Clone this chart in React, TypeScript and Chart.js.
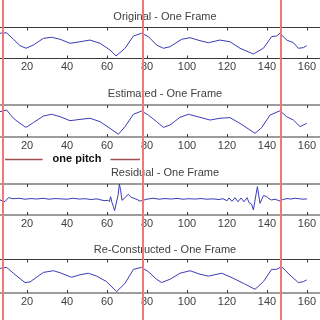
import React, { useEffect, useRef } from "react";
import { Chart, registerables } from "chart.js";

Chart.register(...registerables);

// ---- data ----
const tickValues = [20, 40, 60, 80, 100, 120, 140, 160];
const pitchMarks = [8, 78, 147];
const pitchSpan = [9, 76.5];
const pitchLabelAt = 45;
const titles = [
  "Original - One Frame",
  "Estimated - One Frame",
  "Residual - One Frame",
  "Re-Constructed - One Frame",
];

const origX = [6.5, 9.8, 13.2, 16.5, 19.5, 23.2, 28.2, 32.3, 36.5, 41.5, 46.5, 51.5, 56.5, 61.5, 64.5, 69, 73.2, 77.3, 80.7, 84.8, 88.2, 91.5, 97.3, 101.5, 106.5, 110.7, 116.5, 121.5, 126.5, 133.2, 138.2, 142.3, 144.8, 146.5, 149.8, 153.2, 155.7, 158.2, 159.8];
const origY = [0.63, 0.66, 0.24, -0.17, -0.34, -0.13, 0.30, 0.37, 0.24, -0.02, 0.08, 0.19, -0.02, -0.45, -0.84, -0.34, 0.45, 0.63, 0.41, -0.13, -0.34, -0.24, 0.24, 0.34, 0.15, 0.02, 0.19, 0.08, -0.34, -0.71, -0.34, 0.41, 0.45, 0.63, 0.19, 0.02, -0.34, -0.30, -0.17];

const estX = [6.5, 9.8, 13.2, 16.5, 19.5, 23.2, 28.2, 32.3, 36.5, 41.5, 46.5, 51.5, 56.5, 61.5, 65.7, 69, 73.2, 77.3, 80.7, 84.8, 88.2, 91.5, 96.5, 100.7, 106.5, 111.5, 116.5, 121.5, 126.5, 134, 137.3, 141.5, 146.5, 149.8, 153.2, 156.5, 159.8];
const estY = [0.58, 0.69, 0.17, -0.15, -0.40, -0.10, 0.31, 0.42, 0.27, 0.02, 0.10, 0.17, -0.04, -0.46, -0.83, -0.35, 0.42, 0.62, 0.37, -0.04, -0.40, -0.25, 0.23, 0.42, 0.23, 0.06, 0.17, 0.21, -0.15, -0.77, -0.42, 0.37, 0.64, 0.27, 0.06, -0.35, -0.15];

const resX = [6.5, 8, 9, 10.7, 13, 16, 19, 22, 25, 28, 31, 34, 37, 40, 43, 46, 49, 52, 55, 57, 59, 60.5, 61.2, 61.8, 62.5, 63.2, 63.8, 64.5, 65.5, 66.2, 66.8, 67.5, 68.5, 69.5, 70.7, 72, 73, 75, 76.5, 78, 80, 83, 86, 89, 92, 95, 98, 101, 104, 107, 110, 113, 116, 118, 120, 121, 122.5, 124, 125.5, 127, 128.5, 130, 131, 132.3, 133.2, 134.2, 135.2, 136.5, 137.5, 138.2, 139.8, 141, 142.3, 144, 146.5, 148, 150, 152, 154, 156, 158, 160];
const resY = [-0.03, -0.10, -0.14, 0.12, 0.05, 0.08, 0.02, 0.06, 0.03, 0.08, 0.02, 0.06, 0.04, 0.02, 0.08, 0.03, 0.05, 0.0, 0.04, -0.03, -0.08, -0.05, -0.14, 0.18, -0.2, -0.46, -0.72, -0.3, 0.25, 1.0, 0.6, -0.05, 0.05, 0.2, 0.33, 0.15, 0.1, 0.0, -0.1, -0.05, 0.02, 0.08, 0.02, 0.06, 0.03, 0.07, 0.02, 0.05, 0.03, 0.06, 0.02, 0.04, 0.0, 0.05, -0.08, 0.1, -0.12, 0.12, -0.15, 0.1, -0.15, 0.12, -0.2, -0.3, -0.68, 0.1, 0.83, -0.25, 0.05, 0.25, 0.2, 0.05, -0.03, 0.02, -0.1, 0.0, 0.06, 0.03, 0.08, 0.05, 0.02, 0.04];

const recX = [6.5, 9.8, 13.2, 19, 21.5, 28.2, 33.2, 36.5, 42.3, 46.5, 50.7, 54.8, 59.8, 64.8, 69, 73.2, 77.3, 80.7, 84.8, 87.3, 91.5, 96.5, 101.5, 106.5, 110.7, 117.3, 121.5, 128.2, 134, 138.2, 142.3, 144.8, 147.3, 151.5, 155.7, 158.2, 159.8];
const recY = [0.47, 0.53, 0.18, -0.38, -0.34, 0.23, 0.33, 0.21, -0.06, 0.09, 0.18, 0.01, -0.32, -0.92, -0.42, 0.41, 0.53, 0.27, -0.18, -0.38, -0.18, 0.18, 0.33, 0.12, 0.01, 0.18, -0.03, -0.42, -0.78, -0.32, 0.41, 0.41, 0.57, 0.07, -0.38, -0.32, -0.22];

// ---- layout (panel placement) ----
type Panel = {
  xs: number[];
  ys: number[];
  title: string;
  top: number;
  height: number;
  padTop: number;
  padBottom: number;
  titleGap: number;
  pitch: boolean;
};

const AXIS_H = 18;

const panels: Panel[] = [
  { xs: origX, ys: origY, title: titles[0], top: 0, height: 78, padTop: 27.5, padBottom: 78 - 58.5 - AXIS_H, titleGap: 11, pitch: false },
  { xs: estX, ys: estY, title: titles[1], top: 78, height: 86, padTop: 27, padBottom: 164 - 137 - AXIS_H, titleGap: 11, pitch: true },
  { xs: resX, ys: resY, title: titles[2], top: 164, height: 76, padTop: 20, padBottom: 240 - 215 - AXIS_H, titleGap: 11.5, pitch: false },
  { xs: recX, ys: recY, title: titles[3], top: 240, height: 80, padTop: 19.5, padBottom: 320 - 293 - AXIS_H, titleGap: 9.5, pitch: false },
];

const FONT = "'Liberation Sans', Arial, sans-serif";

function framePlugin(panel: Panel) {
  return {
    id: "frame",
    afterDraw(chart: any) {
      const ctx = chart.ctx as CanvasRenderingContext2D;
      const area = chart.chartArea;
      const xs = chart.scales.x;
      ctx.save();
      // box lines
      ctx.strokeStyle = "#3a3a3a";
      ctx.lineWidth = 1;
      ctx.beginPath();
      ctx.moveTo(area.left, area.top);
      ctx.lineTo(area.right, area.top);
      ctx.moveTo(area.left, area.bottom);
      ctx.lineTo(area.right, area.bottom);
      ctx.stroke();
      // inward tick marks
      ctx.beginPath();
      for (const v of tickValues) {
        const px = Math.round(xs.getPixelForValue(v)) + 0.5;
        ctx.moveTo(px, area.top);
        ctx.lineTo(px, area.top + 3);
        ctx.moveTo(px, area.bottom);
        ctx.lineTo(px, area.bottom - 3);
      }
      ctx.stroke();
      // title
      ctx.fillStyle = "#404040";
      ctx.font = `11px ${FONT}`;
      ctx.textAlign = "center";
      ctx.textBaseline = "middle";
      ctx.fillText(panel.title, (area.left + area.right) / 2 + 5, area.top - panel.titleGap);
      // pitch annotation
      if (panel.pitch) {
        const y = Math.round(area.bottom + 22) + 0.5;
        const a = xs.getPixelForValue(pitchSpan[0]);
        const b = xs.getPixelForValue(pitchSpan[1]);
        const mid = xs.getPixelForValue(pitchLabelAt);
        ctx.font = `bold 11px ${FONT}`;
        ctx.fillStyle = "#111";
        ctx.fillText("one pitch", mid, y - 1);
        const w = ctx.measureText("one pitch").width;
        ctx.strokeStyle = "rgb(160,80,80)";
        ctx.lineWidth = 1.5;
        ctx.beginPath();
        ctx.moveTo(a, y);
        ctx.lineTo(mid - w / 2 - 10, y);
        ctx.moveTo(mid + w / 2 + 9, y);
        ctx.lineTo(b, y);
        ctx.stroke();
      }
      // red pitch lines across full canvas height
      ctx.strokeStyle = "rgb(240,120,120)";
      ctx.lineWidth = 2;
      ctx.beginPath();
      for (const v of pitchMarks) {
        const px = Math.round(xs.getPixelForValue(v));
        ctx.moveTo(px, 0);
        ctx.lineTo(px, chart.height);
      }
      ctx.stroke();
      ctx.restore();
    },
  };
}

function PanelChart({ panel }: { panel: Panel }) {
  const ref = useRef<HTMLCanvasElement | null>(null);
  useEffect(() => {
    if (!ref.current) return;
    const chart = new Chart(ref.current, {
      type: "line",
      data: {
        datasets: [
          {
            data: panel.xs.map((x, i) => ({ x, y: panel.ys[i] })),
            borderColor: "#3c3cb4",
            borderWidth: 1,
            pointRadius: 0,
            tension: 0,
            fill: false,
          },
        ],
      },
      options: {
        animation: false,
        responsive: false,
        maintainAspectRatio: false,
        layout: { padding: { top: panel.padTop, bottom: panel.padBottom, left: 0, right: 0 } },
        plugins: { legend: { display: false }, tooltip: { enabled: false }, title: { display: false } },
        scales: {
          x: {
            type: "linear",
            min: 6.5,
            max: 166.5,
            grid: { display: false, drawTicks: false },
            border: { display: false },
            afterBuildTicks: (s: any) => {
              s.ticks = tickValues.map((v) => ({ value: v }));
            },
            afterFit: (s: any) => {
              s.height = AXIS_H;
            },
            ticks: {
              autoSkip: false,
              maxRotation: 0,
              padding: 2,
              color: "#404040",
              font: { family: FONT, size: 11 },
            },
          },
          y: { display: false, min: -1, max: 1 },
        },
      },
      plugins: [framePlugin(panel)],
    });
    return () => chart.destroy();
  }, [panel]);
  return (
    <canvas
      ref={ref}
      width={320}
      height={panel.height}
      style={{ position: "absolute", left: 0, top: panel.top, width: 320, height: panel.height, display: "block" }}
    />
  );
}

export default function App() {
  return (
    <div style={{ position: "absolute", left: 0, top: 0, width: 320, height: 320, background: "#fff", overflow: "hidden" }}>
      {panels.map((p, i) => (
        <PanelChart key={i} panel={p} />
      ))}
    </div>
  );
}
